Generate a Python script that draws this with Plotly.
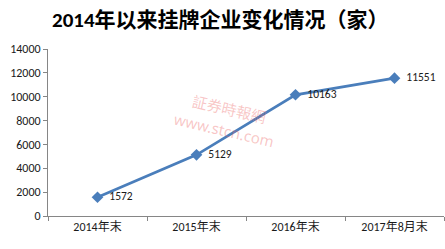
import plotly.graph_objects as go

categories = ["2014年末", "2015年末", "2016年末", "2017年8月末"]
values = [1572, 5129, 10163, 11551]
title_text = "2014年以来挂牌企业变化情况（家）"
y_ticks = [0, 2000, 4000, 6000, 8000, 10000, 12000, 14000]

FONT = "Calibri, Carlito, 'Noto Sans CJK SC', 'Noto Sans', sans-serif"

fig = go.Figure()
fig.add_trace(go.Scatter(
    x=categories, y=values,
    mode="lines+markers+text",
    line=dict(color="#4a7ebb", width=2.75),
    marker=dict(symbol="diamond", size=9, color="#4a7ebb"),
    text=[f"  {v}" for v in values],
    textposition="middle right",
    textfont=dict(family=FONT, size=11.5, color="#1a1a1a"),
    cliponaxis=False,
    showlegend=False,
))

wm_color = "rgba(235,90,90,0.35)"
fig.add_annotation(xref="paper", yref="paper", x=(229 - 48) / 396, y=(216 - 108) / 167,
                   text="証券時報網", showarrow=False, textangle=13,
                   font=dict(family="'Noto Sans CJK SC'", size=15, color=wm_color))
fig.add_annotation(xref="paper", yref="paper", x=(224 - 48) / 396, y=(216 - 130) / 167,
                   text="www.stcn.com", showarrow=False, textangle=13,
                   font=dict(family="'Noto Sans', sans-serif", size=15, color=wm_color))

fig.update_layout(
    width=445, height=249,
    margin=dict(l=48, r=1, t=49, b=33),
    paper_bgcolor="white", plot_bgcolor="white",
    title=dict(text=f"<b>{title_text}</b>", x=0.495, xanchor="center",
               y=1 - 20 / 249, yanchor="middle",
               font=dict(family=FONT, size=21, color="#000000")),
    font=dict(family=FONT, size=12, color="#1a1a1a"),
)
fig.update_xaxes(
    type="category", showgrid=False, showline=True, linecolor="#868686", linewidth=1,
    ticks="outside", ticklen=4, tickcolor="#868686", tickson="boundaries",
    tickfont=dict(family=FONT, size=12, color="#1a1a1a"),
    range=[-0.5, 3.5],
)
fig.update_yaxes(
    range=[0, 14000], tickvals=y_ticks, ticktext=[str(v) for v in y_ticks],
    showgrid=False, zeroline=False,
    showline=True, linecolor="#868686", linewidth=1,
    ticks="outside", ticklen=4, tickcolor="#868686",
    tickfont=dict(family=FONT, size=12, color="#1a1a1a"),
)

fig.write_html("out.html")
